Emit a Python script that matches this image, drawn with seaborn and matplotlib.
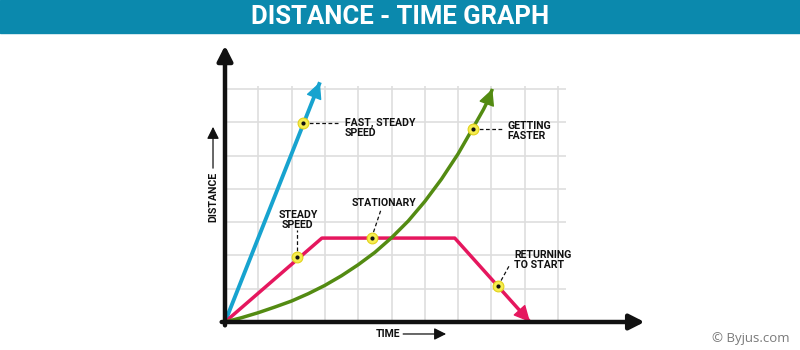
import numpy as np
import pandas as pd
import matplotlib
matplotlib.use("Agg")
import matplotlib.pyplot as plt
from matplotlib.patches import Rectangle
import seaborn as sns

# ---------------- data ----------------
title = "DISTANCE - TIME GRAPH"
x_label = "TIME"
y_label = "DISTANCE"
credit = "© Byjus.com"

fast_time = [0.0, 2.85]
fast_dist = [0.0, 7.2]

steady_time = [0.0, 2.91, 6.9, 9.16]
steady_dist = [0.0, 2.52, 2.52, 0.0]

accel_time = [0.0, 0.5, 1.0, 1.5, 2.0, 2.5, 3.0, 3.5, 4.0, 4.5, 5.0, 5.5,
              6.0, 6.5, 7.0, 7.5, 7.76, 7.9, 8.03]
accel_dist = [0.0, 0.13, 0.28, 0.45, 0.63, 0.85, 1.1, 1.39, 1.72, 2.09,
              2.53, 3.03, 3.62, 4.29, 5.05, 5.92, 6.38, 6.66, 7.0]

note_labels = ["FAST, STEADY\nSPEED", "STEADY\nSPEED", "STATIONARY",
               "GETTING\nFASTER", "RETURNING\nTO START"]
note_time = [2.34, 2.16, 4.4, 7.45, 8.2]
note_dist = [5.98, 1.95, 2.52, 5.8, 1.08]

grid_x = list(range(1, 11))
grid_y = list(range(1, 8))

# ---------------- style ----------------
sns.set_theme(style="white")
plt.rcParams["font.family"] = ["Roboto", "DejaVu Sans"]

BLUE = "#17a3cf"
PINK = "#e5175e"
GREEN = "#538b12"
BAND = "#0b89ad"
INK = "#111111"

U = 33.3          # pixels per unit
X0, Y0 = 225, 322  # origin pixel
W, H = 800, 350

fig = plt.figure(figsize=(8, 3.5), dpi=100)
ax = fig.add_axes([0, 0, 1, 1])
ax.set_xlim(-X0 / U, (W - X0) / U)
ax.set_ylim(-(H - Y0) / U, Y0 / U)
ax.axis("off")

# title band
ax.add_patch(Rectangle((0, 1 - 33 / H), 1, 33 / H, transform=ax.transAxes,
                       color=BAND, zorder=0))
ax.text(0.5, 1 - 17.5 / H, title, transform=ax.transAxes, ha="center",
        va="center", color="white", fontsize=18.5, fontweight="bold",
        family=["Roboto", "DejaVu Sans"])

# grid
ax.vlines(grid_x, 0, 7.1, color="#dedede", lw=1.2, zorder=1)
ax.hlines(grid_y, 0, 10.25, color="#dedede", lw=1.2, zorder=1)

# axes arrows
axis_style = "-|>,head_length=0.75,head_width=0.38"
ax.annotate("", xy=(0, 8.3), xytext=(0, -0.1),
            arrowprops=dict(arrowstyle=axis_style, lw=3.2, color=INK,
                            shrinkA=0, shrinkB=0, mutation_scale=12),
            zorder=6)
ax.annotate("", xy=(12.6, 0), xytext=(-0.1, 0),
            arrowprops=dict(arrowstyle=axis_style, lw=3.2, color=INK,
                            shrinkA=0, shrinkB=0, mutation_scale=12),
            zorder=6)

# lines
series = [(fast_time, fast_dist, BLUE, 2.8),
          (steady_time, steady_dist, PINK, 2.5),
          (accel_time, accel_dist, GREEN, 2.5)]
for t, d, c, lw in series:
    df = pd.DataFrame({"t": t, "d": d})
    sns.lineplot(data=df, x="t", y="d", sort=False, color=c, lw=lw, ax=ax,
                 zorder=3, solid_capstyle="butt", solid_joinstyle="round")
    ax.annotate("", xy=(t[-1], d[-1]), xytext=(t[-2], d[-2]),
                arrowprops=dict(arrowstyle="-|>,head_length=0.85,head_width=0.42",
                                lw=1.0, color=c, shrinkA=0, shrinkB=0,
                                mutation_scale=12),
                zorder=4)

# dashed leaders & labels
note_font = dict(fontsize=7.6, fontweight="bold", color=INK, linespacing=0.92,
                 family=["Roboto", "DejaVu Sans"])
leader_end = [(3.45, 5.98), (2.16, 2.76), (4.68, 3.36), (8.32, 5.8), (8.53, 1.68)]
text_pos = [((3.6, 5.83), "left"), ((2.19, 3.06), "center"),
            ((4.76, 3.57), "center"), ((8.47, 5.74), "left"),
            ((8.68, 1.86), "left")]
for lab, t, d, end, (pos, ha) in zip(note_labels, note_time, note_dist,
                                      leader_end, text_pos):
    ax.plot([t, end[0]], [d, end[1]], color=INK, lw=0.9, ls=(0, (3, 2)),
            zorder=5)
    ax.text(pos[0], pos[1], lab, ha=ha, va="center", zorder=7, **note_font)

notes = pd.DataFrame({"t": note_time, "d": note_dist})
sns.scatterplot(data=notes, x="t", y="d", s=60, color="#f6ee4e",
                edgecolor="#e2d21c", linewidth=0.8, ax=ax, zorder=8)
sns.scatterplot(data=notes, x="t", y="d", s=9, color=INK, edgecolor=INK,
                linewidth=0, ax=ax, zorder=9)

# axis labels with small arrows
lab_font = dict(fontsize=7.6, fontweight="bold", color=INK,
                family=["Roboto", "DejaVu Sans"])
ax.text(-0.36, 3.75, y_label, rotation=90, ha="center", va="center", **lab_font)
ax.annotate("", xy=(-0.36, 5.86), xytext=(-0.36, 4.62),
            arrowprops=dict(arrowstyle="-|>,head_length=0.6,head_width=0.3",
                            lw=0.9, color=INK, shrinkA=0, shrinkB=0,
                            mutation_scale=12))
ax.text(4.9, -0.36, x_label, ha="center", va="center", **lab_font)
ax.annotate("", xy=(6.64, -0.36), xytext=(5.35, -0.36),
            arrowprops=dict(arrowstyle="-|>,head_length=0.6,head_width=0.3",
                            lw=0.9, color=INK, shrinkA=0, shrinkB=0,
                            mutation_scale=12))

# credit
ax.text(16.97, -0.51, credit, ha="right", va="center", fontsize=9.5,
        color="#7a7a7a", family=["Open Sans", "DejaVu Sans"])

ax.set_xlabel("")
ax.set_ylabel("")
fig.savefig("out.png", dpi=100)
